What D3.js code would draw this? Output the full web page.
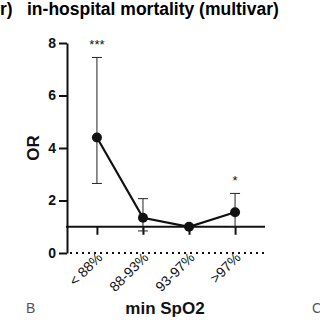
<!DOCTYPE html>
<html><head><meta charset="utf-8">
<script src="https://cdn.jsdelivr.net/npm/d3@7"></script>
<style>body{margin:0;background:#fff}svg{display:block}text{font-family:"Liberation Sans",Arial,sans-serif}</style>
</head><body>
<script>
const categories = ["< 88%", "88-93%", "93-97%", ">97%"];
const orValues = [4.4, 1.34, 1.0, 1.55];
const lowerCI = [2.65, 0.84, 1.0, 1.0];
const upperCI = [7.45, 2.07, 1.0, 2.27];
const signif = ["***", "", "", "*"];
const yTicks = [0, 2, 4, 6, 8];

const W = 320, H = 320;
const svg = d3.select("body").append("svg").attr("width", W).attr("height", H);

const x = d3.scalePoint().domain(categories).range([67, 265]).padding(0.65);
const y = d3.scaleLinear().domain([0, 8]).range([253, 43]);

// title
svg.append("text").attr("x", 0).attr("y", 15).attr("font-size", 17.5).attr("font-weight", "bold").text("r)");
svg.append("text").attr("x", 27).attr("y", 15).attr("font-size", 17.5).attr("font-weight", "bold").text("in-hospital mortality (multivar)");

// dotted zero line
svg.append("line").attr("x1", 70).attr("x2", 265).attr("y1", y(0)).attr("y2", y(0))
  .attr("stroke", "#111").attr("stroke-width", 2).attr("stroke-dasharray", "2,4");

// y axis
const yAxis = svg.append("g").attr("transform", "translate(67,0)")
  .call(d3.axisLeft(y).tickValues(yTicks).tickSize(8).tickPadding(3).tickSizeOuter(0));
yAxis.select(".domain").attr("stroke", "#111").attr("stroke-width", 2);
yAxis.selectAll(".tick line").attr("stroke", "#111").attr("stroke-width", 2);
yAxis.selectAll(".tick text").attr("font-size", 14).attr("font-weight", "bold").attr("fill", "#111")
  .attr("font-family", "Liberation Sans, Arial, sans-serif");

// x axis at y = 1
const xAxis = svg.append("g").attr("transform", `translate(0,${y(1)})`)
  .call(d3.axisBottom(x).tickSize(8).tickSizeOuter(0).tickFormat(""));
xAxis.select(".domain").attr("d", `M66,0H265`).attr("stroke", "#111").attr("stroke-width", 2);
xAxis.selectAll(".tick line").attr("stroke", "#111").attr("stroke-width", 2);

// rotated x labels
svg.append("g").selectAll("text").data(categories).join("text")
  .attr("transform", d => `translate(${x(d) - 1},${y(0) - 2}) rotate(-45)`)
  .attr("text-anchor", "end").attr("dy", "0.75em")
  .attr("font-size", 14).attr("fill", "#111").text(d => d);

// error bars
const eb = svg.append("g").attr("stroke", "#222").attr("stroke-width", 1);
categories.forEach((c, i) => {
  if (upperCI[i] === lowerCI[i]) return;
  const cx = x(c);
  eb.append("line").attr("x1", cx).attr("x2", cx).attr("y1", y(upperCI[i])).attr("y2", y(lowerCI[i]));
  eb.append("line").attr("x1", cx - 5).attr("x2", cx + 5).attr("y1", y(upperCI[i])).attr("y2", y(upperCI[i]));
  eb.append("line").attr("x1", cx - 5).attr("x2", cx + 5).attr("y1", y(lowerCI[i])).attr("y2", y(lowerCI[i]));
});

// line
const line = d3.line().x((d, i) => x(categories[i])).y(d => y(d));
svg.append("path").datum(orValues).attr("d", line).attr("fill", "none")
  .attr("stroke", "#111").attr("stroke-width", 2.2);

// points
svg.append("g").selectAll("circle").data(orValues).join("circle")
  .attr("cx", (d, i) => x(categories[i])).attr("cy", d => y(d)).attr("r", 5).attr("fill", "#111");

// significance
svg.append("g").selectAll("text").data(signif).join("text")
  .attr("x", (d, i) => x(categories[i])).attr("y", (d, i) => y(upperCI[i]) - 8)
  .attr("text-anchor", "middle").attr("font-size", 13).attr("fill", "#111").text(d => d);

// axis titles
svg.append("text").attr("transform", `translate(39,${y(4)}) rotate(-90)`).attr("text-anchor", "middle")
  .attr("font-size", 17).attr("font-weight", "bold").attr("fill", "#111").text("OR");
svg.append("text").attr("x", 165).attr("y", 314).attr("text-anchor", "middle")
  .attr("font-size", 17).attr("font-weight", "bold").attr("fill", "#111").text("min SpO2");

// panel letters
svg.append("text").attr("x", 26).attr("y", 313).attr("font-family", "Liberation Serif, serif")
  .attr("font-size", 14).attr("fill", "#555").text("B");
svg.append("text").attr("x", 312).attr("y", 313).attr("font-family", "Liberation Serif, serif")
  .attr("font-size", 14).attr("fill", "#555").text("C");
</script>
</body></html>
